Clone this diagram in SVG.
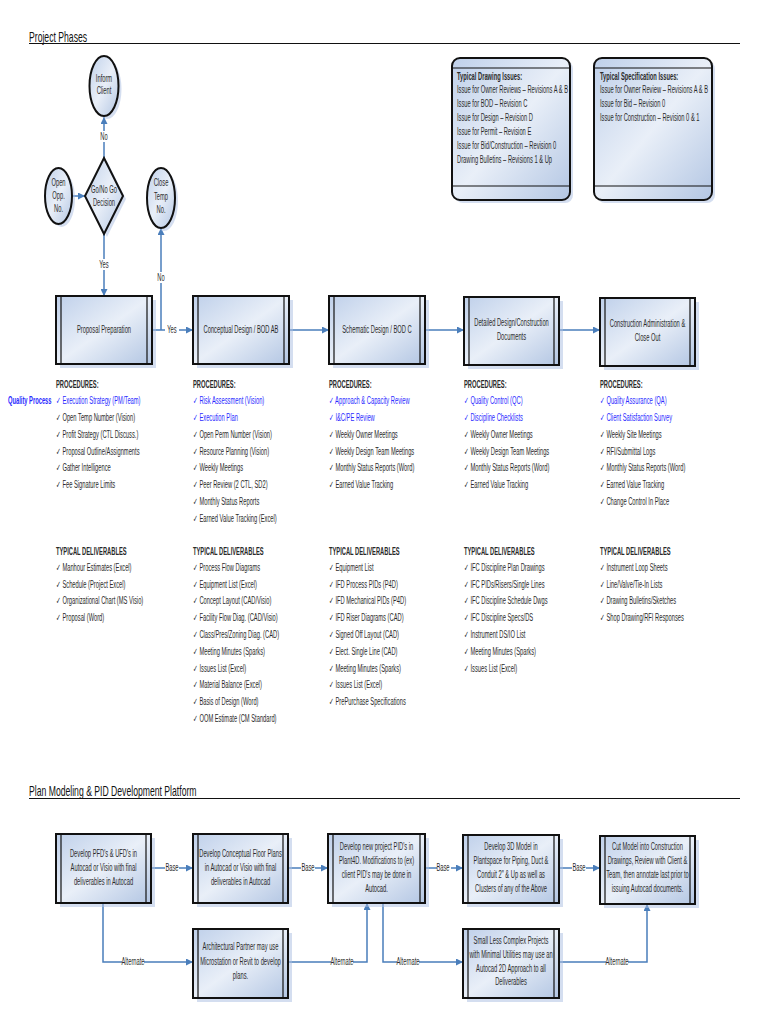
<svg xmlns="http://www.w3.org/2000/svg" width="768" height="1024" viewBox="0 0 768 1024">
<defs>
<linearGradient id="gf" x1="0" y1="0" x2="1" y2="1">
<stop offset="0" stop-color="#bfd0ea"/>
<stop offset="0.5" stop-color="#e9eff8"/>
<stop offset="1" stop-color="#b3c6e3"/>
</linearGradient>
<marker id="arr" viewBox="0 0 10 10" refX="10" refY="5" markerUnits="userSpaceOnUse" markerWidth="7" markerHeight="7" orient="auto">
<path d="M0,0 L10,5 L0,10 z" fill="#4a7ebb"/>
</marker>
</defs>
<style>
.t{font-family:"Liberation Sans",Arial,"DejaVu Sans",sans-serif;font-size:10px;fill:#2a2a2a}
.b{font-weight:bold}
.blue{fill:#2a2aff}
.ttl{font-family:"Liberation Sans",Arial,sans-serif;font-size:15px;fill:#111}
.box{fill:url(#gf);stroke:#111;stroke-width:2}
.sh{fill:#a9bde2;opacity:0.5}
.in{stroke:#111;stroke-width:1.2}
.c{fill:none;stroke:#4a7ebb;stroke-width:1.5}
.ca{fill:none;stroke:#4a7ebb;stroke-width:1.5;marker-end:url(#arr)}
.lb{fill:#fff}
.m{text-anchor:middle}
</style>
<rect width="768" height="1024" fill="#fff"/>

<!-- Section titles -->
<g id="title1">
<g transform="translate(29,0) scale(0.576,1)"><text class="ttl" x="0" y="42">Project Phases</text></g>
<line x1="29" y1="43.5" x2="740" y2="43.5" stroke="#111" stroke-width="1.2"/>
</g>
<g id="title2">
<g transform="translate(29,0) scale(0.576,1)"><text class="ttl" x="0" y="796">Plan Modeling &amp; PID Development Platform</text></g>
<line x1="29" y1="798.5" x2="740" y2="798.5" stroke="#111" stroke-width="1.2"/>
</g>

<!-- Connectors -->
<g id="connectors">
<line class="ca" x1="72" y1="196" x2="85" y2="196"/>
<line class="ca" x1="104" y1="158" x2="104" y2="117"/>
<line class="ca" x1="104" y1="234" x2="104" y2="296"/>
<line class="ca" x1="152" y1="330" x2="193" y2="330"/>
<line class="ca" x1="161" y1="330" x2="161" y2="228"/>
<line class="ca" x1="289" y1="330" x2="329" y2="330"/>
<line class="ca" x1="425" y1="330" x2="464" y2="330"/>
<line class="ca" x1="559" y1="330" x2="600" y2="330"/>

<line class="ca" x1="151" y1="868" x2="193" y2="868"/>
<line class="ca" x1="288" y1="868" x2="328" y2="868"/>
<line class="ca" x1="425" y1="868" x2="463" y2="868"/>
<line class="ca" x1="559" y1="868" x2="600" y2="868"/>
<polyline class="ca" points="103,903 103,962 193,962"/>
<polyline class="ca" points="288,962 367,962 367,903"/>
<polyline class="ca" points="383,903 383,962 463,962"/>
<polyline class="ca" points="559,962 647,962 647,904"/>

<!-- labels -->
<rect class="lb" x="97" y="131" width="14" height="11"/>
<g transform="translate(104,0) scale(0.576,1)"><text class="t m" x="0" y="140.5">No</text></g>
<rect class="lb" x="95" y="259" width="18" height="11"/>
<g transform="translate(104,0) scale(0.576,1)"><text class="t m" x="0" y="268.5">Yes</text></g>
<rect class="lb" x="154" y="272" width="14" height="11"/>
<g transform="translate(161,0) scale(0.576,1)"><text class="t m" x="0" y="281.5">No</text></g>
<rect class="lb" x="165" y="324" width="14" height="11"/>
<g transform="translate(172,0) scale(0.576,1)"><text class="t m" x="0" y="333.5">Yes</text></g>

<rect class="lb" x="165" y="862" width="14" height="11"/>
<g transform="translate(172,0) scale(0.576,1)"><text class="t m" x="0" y="871.5">Base</text></g>
<rect class="lb" x="301" y="862" width="14" height="11"/>
<g transform="translate(308,0) scale(0.576,1)"><text class="t m" x="0" y="871.5">Base</text></g>
<rect class="lb" x="437" y="862" width="14" height="11"/>
<g transform="translate(443,0) scale(0.576,1)"><text class="t m" x="0" y="871.5">Base</text></g>
<rect class="lb" x="572" y="862" width="14" height="11"/>
<g transform="translate(579,0) scale(0.576,1)"><text class="t m" x="0" y="871.5">Base</text></g>

<rect class="lb" x="122" y="956" width="22" height="11"/>
<g transform="translate(133,0) scale(0.576,1)"><text class="t m" x="0" y="965.5">Alternate</text></g>
<rect class="lb" x="331" y="956" width="22" height="11"/>
<g transform="translate(342,0) scale(0.576,1)"><text class="t m" x="0" y="965.5">Alternate</text></g>
<rect class="lb" x="397" y="956" width="22" height="11"/>
<g transform="translate(408,0) scale(0.576,1)"><text class="t m" x="0" y="965.5">Alternate</text></g>
<rect class="lb" x="606" y="956" width="22" height="11"/>
<g transform="translate(617,0) scale(0.576,1)"><text class="t m" x="0" y="965.5">Alternate</text></g>
</g>

<!-- Ellipses and decision -->
<g id="inform-client">
<ellipse class="sh" cx="107" cy="89" rx="14.5" ry="30"/>
<ellipse class="box" cx="104" cy="86" rx="14.5" ry="30"/>
<g transform="translate(104,0) scale(0.576,1)"><text class="t m" x="0" y="82">Inform</text><text class="t m" x="0" y="94.5">Client</text></g>
</g>
<g id="open-opp">
<ellipse class="sh" cx="61.5" cy="199" rx="13.5" ry="28"/>
<ellipse class="box" cx="58.5" cy="196" rx="13.5" ry="28"/>
<g transform="translate(58.5,0) scale(0.576,1)"><text class="t m" x="0" y="186.5">Open</text><text class="t m" x="0" y="199.5">Opp.</text><text class="t m" x="0" y="212.5">No.</text></g>
</g>
<g id="decision">
<polygon class="sh" points="107,161 126,199 107,237 88,199"/>
<polygon class="box" points="104,158 123,196 104,234 85,196"/>
<g transform="translate(104,0) scale(0.576,1)"><text class="t m" x="0" y="193.5">Go/No Go</text><text class="t m" x="0" y="206.5">Decision</text></g>
</g>
<g id="close-temp">
<ellipse class="sh" cx="164" cy="201" rx="14" ry="30"/>
<ellipse class="box" cx="161" cy="198" rx="14" ry="30"/>
<g transform="translate(161,0) scale(0.576,1)"><text class="t m" x="0" y="186.5">Close</text><text class="t m" x="0" y="200.5">Temp</text><text class="t m" x="0" y="213.5">No.</text></g>
</g>

<!-- Issue boxes -->
<g id="drawing-issues">
<rect class="sh" x="455" y="61" width="118" height="142" rx="8"/>
<rect class="box" x="452" y="58" width="118" height="142" rx="8"/>
<line class="in" x1="452" y1="68" x2="570" y2="68" stroke-width="2"/>
<line class="in" x1="452" y1="186" x2="570" y2="186" stroke-width="2"/>
<g transform="translate(457,0) scale(0.576,1)">
<text class="t b" x="0" y="80.5">Typical Drawing Issues:</text>
<text class="t" x="0" y="93">Issue for Owner Reviews – Revisions A &amp; B</text>
<text class="t" x="0" y="107">Issue for BOD – Revision C</text>
<text class="t" x="0" y="121">Issue for Design – Revision D</text>
<text class="t" x="0" y="135.5">Issue for Permit – Revision E</text>
<text class="t" x="0" y="149.5">Issue for Bid/Construction – Revision 0</text>
<text class="t" x="0" y="163.5">Drawing Bulletins – Revisions 1 &amp; Up</text>
</g>
</g>
<g id="spec-issues">
<rect class="sh" x="597" y="61" width="118" height="142" rx="8"/>
<rect class="box" x="594" y="58" width="118" height="142" rx="8"/>
<line class="in" x1="594" y1="68" x2="712" y2="68" stroke-width="2"/>
<line class="in" x1="594" y1="186" x2="712" y2="186" stroke-width="2"/>
<g transform="translate(600,0) scale(0.576,1)">
<text class="t b" x="0" y="80.5">Typical Specification Issues:</text>
<text class="t" x="0" y="93">Issue for Owner Review – Revisions A &amp; B</text>
<text class="t" x="0" y="107">Issue for Bid – Revision 0</text>
<text class="t" x="0" y="121">Issue for Construction – Revision 0 &amp; 1</text>
</g>
</g>

<!-- Phase boxes -->
<g id="proposal">
<rect class="sh" x="60" y="300" width="96" height="68"/>
<rect class="box" x="56" y="296" width="96" height="68"/>
<line class="in" x1="61" y1="296" x2="61" y2="364"/><line class="in" x1="147" y1="296" x2="147" y2="364"/>
<g transform="translate(104,0) scale(0.576,1)"><text class="t m" x="0" y="333.5">Proposal Preparation</text></g>
</g>
<g id="conceptual">
<rect class="sh" x="197" y="300" width="96" height="68"/>
<rect class="box" x="193" y="296" width="96" height="68"/>
<line class="in" x1="198" y1="296" x2="198" y2="364"/><line class="in" x1="284" y1="296" x2="284" y2="364"/>
<g transform="translate(241,0) scale(0.576,1)"><text class="t m" x="0" y="333.5">Conceptual Design / BOD AB</text></g>
</g>
<g id="schematic">
<rect class="sh" x="333" y="300" width="96" height="68"/>
<rect class="box" x="329" y="296" width="96" height="68"/>
<line class="in" x1="334" y1="296" x2="334" y2="364"/><line class="in" x1="420" y1="296" x2="420" y2="364"/>
<g transform="translate(377,0) scale(0.576,1)"><text class="t m" x="0" y="333.5">Schematic Design / BOD C</text></g>
</g>
<g id="detailed">
<rect class="sh" x="468" y="301" width="95" height="68"/>
<rect class="box" x="464" y="297" width="95" height="68"/>
<line class="in" x1="469" y1="297" x2="469" y2="365"/><line class="in" x1="554" y1="297" x2="554" y2="365"/>
<g transform="translate(511.5,0) scale(0.576,1)"><text class="t m" x="0" y="326.5">Detailed Design/Construction</text><text class="t m" x="0" y="340.5">Documents</text></g>
</g>
<g id="construction">
<rect class="sh" x="604" y="302" width="95" height="68"/>
<rect class="box" x="600" y="298" width="95" height="68"/>
<line class="in" x1="605" y1="298" x2="605" y2="366"/><line class="in" x1="690" y1="298" x2="690" y2="366"/>
<g transform="translate(647.5,0) scale(0.576,1)"><text class="t m" x="0" y="327.5">Construction Administration &amp;</text><text class="t m" x="0" y="341.5">Close Out</text></g>
</g>

<!-- Quality Process label -->
<g id="quality-process" transform="translate(8,0) scale(0.576,1)"><text class="t b blue" x="0" y="404">Quality Process</text></g>

<!-- Procedures -->
<g id="proc1" transform="translate(56,0) scale(0.576,1)">
<text class="t b" x="0" y="387.8">PROCEDURES:</text>
<text class="t blue" x="0" y="404.3">✓ Execution Strategy (PM/Team)</text>
<text class="t" x="0" y="421.1">✓ Open Temp Number (Vision)<tspan x="0" dy="16.8">✓ Profit Strategy (CTL Discuss.)</tspan><tspan x="0" dy="16.8">✓ Proposal Outline/Assignments</tspan><tspan x="0" dy="16.8">✓ Gather Intelligence</tspan><tspan x="0" dy="16.8">✓ Fee Signature Limits</tspan></text>
</g>
<g id="proc2" transform="translate(193,0) scale(0.576,1)">
<text class="t b" x="0" y="387.8">PROCEDURES:</text>
<text class="t blue" x="0" y="404.3">✓ Risk Assessment (Vision)<tspan x="0" dy="16.8">✓ Execution Plan</tspan></text>
<text class="t" x="0" y="437.9">✓ Open Perm Number (Vision)<tspan x="0" dy="16.8">✓ Resource Planning (Vision)</tspan><tspan x="0" dy="16.8">✓ Weekly Meetings</tspan><tspan x="0" dy="16.8">✓ Peer Review (2 CTL, SD2)</tspan><tspan x="0" dy="16.8">✓ Monthly Status Reports</tspan><tspan x="0" dy="16.8">✓ Earned Value Tracking (Excel)</tspan></text>
</g>
<g id="proc3" transform="translate(329,0) scale(0.576,1)">
<text class="t b" x="0" y="387.8">PROCEDURES:</text>
<text class="t blue" x="0" y="404.3">✓ Approach &amp; Capacity Review<tspan x="0" dy="16.8">✓ I&amp;C/PE Review</tspan></text>
<text class="t" x="0" y="437.9">✓ Weekly Owner Meetings<tspan x="0" dy="16.8">✓ Weekly Design Team Meetings</tspan><tspan x="0" dy="16.8">✓ Monthly Status Reports (Word)</tspan><tspan x="0" dy="16.8">✓ Earned Value Tracking</tspan></text>
</g>
<g id="proc4" transform="translate(464,0) scale(0.576,1)">
<text class="t b" x="0" y="387.8">PROCEDURES:</text>
<text class="t blue" x="0" y="404.3">✓ Quality Control (QC)<tspan x="0" dy="16.8">✓ Discipline Checklists</tspan></text>
<text class="t" x="0" y="437.9">✓ Weekly Owner Meetings<tspan x="0" dy="16.8">✓ Weekly Design Team Meetings</tspan><tspan x="0" dy="16.8">✓ Monthly Status Reports (Word)</tspan><tspan x="0" dy="16.8">✓ Earned Value Tracking</tspan></text>
</g>
<g id="proc5" transform="translate(600,0) scale(0.576,1)">
<text class="t b" x="0" y="387.8">PROCEDURES:</text>
<text class="t blue" x="0" y="404.3">✓ Quality Assurance (QA)<tspan x="0" dy="16.8">✓ Client Satisfaction Survey</tspan></text>
<text class="t" x="0" y="437.9">✓ Weekly Site Meetings<tspan x="0" dy="16.8">✓ RFI/Submittal Logs</tspan><tspan x="0" dy="16.8">✓ Monthly Status Reports (Word)</tspan><tspan x="0" dy="16.8">✓ Earned Value Tracking</tspan><tspan x="0" dy="16.8">✓ Change Control In Place</tspan></text>
</g>

<!-- Deliverables -->
<g id="deliv1" transform="translate(56,0) scale(0.576,1)">
<text class="t b" x="0" y="554.6">TYPICAL DELIVERABLES</text>
<text class="t" x="0" y="570.8">✓ Manhour Estimates (Excel)<tspan x="0" dy="16.8">✓ Schedule (Project Excel)</tspan><tspan x="0" dy="16.8">✓ Organizational Chart (MS Visio)</tspan><tspan x="0" dy="16.8">✓ Proposal (Word)</tspan></text>
</g>
<g id="deliv2" transform="translate(193,0) scale(0.576,1)">
<text class="t b" x="0" y="554.6">TYPICAL DELIVERABLES</text>
<text class="t" x="0" y="570.8">✓ Process Flow Diagrams<tspan x="0" dy="16.8">✓ Equipment List (Excel)</tspan><tspan x="0" dy="16.8">✓ Concept Layout (CAD/Visio)</tspan><tspan x="0" dy="16.8">✓ Facility Flow Diag. (CAD/Visio)</tspan><tspan x="0" dy="16.8">✓ Class/Pres/Zoning Diag. (CAD)</tspan><tspan x="0" dy="16.8">✓ Meeting Minutes (Sparks)</tspan><tspan x="0" dy="16.8">✓ Issues List (Excel)</tspan><tspan x="0" dy="16.8">✓ Material Balance (Excel)</tspan><tspan x="0" dy="16.8">✓ Basis of Design (Word)</tspan><tspan x="0" dy="16.8">✓ OOM Estimate (CM Standard)</tspan></text>
</g>
<g id="deliv3" transform="translate(329,0) scale(0.576,1)">
<text class="t b" x="0" y="554.6">TYPICAL DELIVERABLES</text>
<text class="t" x="0" y="570.8">✓ Equipment List<tspan x="0" dy="16.8">✓ IFD Process PIDs (P4D)</tspan><tspan x="0" dy="16.8">✓ IFD Mechanical PIDs (P4D)</tspan><tspan x="0" dy="16.8">✓ IFD Riser Diagrams (CAD)</tspan><tspan x="0" dy="16.8">✓ Signed Off Layout (CAD)</tspan><tspan x="0" dy="16.8">✓ Elect. Single Line (CAD)</tspan><tspan x="0" dy="16.8">✓ Meeting Minutes (Sparks)</tspan><tspan x="0" dy="16.8">✓ Issues List (Excel)</tspan><tspan x="0" dy="16.8">✓ PrePurchase Specifications</tspan></text>
</g>
<g id="deliv4" transform="translate(464,0) scale(0.576,1)">
<text class="t b" x="0" y="554.6">TYPICAL DELIVERABLES</text>
<text class="t" x="0" y="570.8">✓ IFC Discipline Plan Drawings<tspan x="0" dy="16.8">✓ IFC PIDs/Risers/Single Lines</tspan><tspan x="0" dy="16.8">✓ IFC Discipline Schedule Dwgs</tspan><tspan x="0" dy="16.8">✓ IFC Discipline Specs/DS</tspan><tspan x="0" dy="16.8">✓ Instrument DS/IO List</tspan><tspan x="0" dy="16.8">✓ Meeting Minutes (Sparks)</tspan><tspan x="0" dy="16.8">✓ Issues List (Excel)</tspan></text>
</g>
<g id="deliv5" transform="translate(600,0) scale(0.576,1)">
<text class="t b" x="0" y="554.6">TYPICAL DELIVERABLES</text>
<text class="t" x="0" y="570.8">✓ Instrument Loop Sheets<tspan x="0" dy="16.8">✓ Line/Valve/Tie-In Lists</tspan><tspan x="0" dy="16.8">✓ Drawing Bulletins/Sketches</tspan><tspan x="0" dy="16.8">✓ Shop Drawing/RFI Responses</tspan></text>
</g>

<!-- Bottom section boxes -->
<g id="pfd">
<rect class="sh" x="60" y="838" width="95" height="69"/>
<rect class="box" x="56" y="834" width="95" height="69"/>
<line class="in" x1="61" y1="834" x2="61" y2="903"/><line class="in" x1="146" y1="834" x2="146" y2="903"/>
<g transform="translate(103.5,0) scale(0.576,1)"><text class="t m" x="0" y="857.5">Develop PFD's &amp; UFD's in</text><text class="t m" x="0" y="871.5">Autocad or Visio with final</text><text class="t m" x="0" y="885.5">deliverables in Autocad</text></g>
</g>
<g id="floor-plans">
<rect class="sh" x="197" y="838" width="95" height="69"/>
<rect class="box" x="193" y="834" width="95" height="69"/>
<line class="in" x1="198" y1="834" x2="198" y2="903"/><line class="in" x1="283" y1="834" x2="283" y2="903"/>
<g transform="translate(240.5,0) scale(0.576,1)"><text class="t m" x="0" y="857.5">Develop Conceptual Floor Plans</text><text class="t m" x="0" y="871.5">in Autocad or Visio with final</text><text class="t m" x="0" y="885.5">deliverables in Autocad</text></g>
</g>
<g id="pids">
<rect class="sh" x="332" y="838" width="97" height="69"/>
<rect class="box" x="328" y="834" width="97" height="69"/>
<line class="in" x1="333" y1="834" x2="333" y2="903"/><line class="in" x1="420" y1="834" x2="420" y2="903"/>
<g transform="translate(376.5,0) scale(0.576,1)"><text class="t m" x="0" y="850.5">Develop new project PID's in</text><text class="t m" x="0" y="864.5">Plant4D. Modifications to (ex)</text><text class="t m" x="0" y="878.5">client PID's may be done in</text><text class="t m" x="0" y="892.5">Autocad.</text></g>
</g>
<g id="model3d">
<rect class="sh" x="467" y="839" width="96" height="68"/>
<rect class="box" x="463" y="835" width="96" height="68"/>
<line class="in" x1="468" y1="835" x2="468" y2="903"/><line class="in" x1="554" y1="835" x2="554" y2="903"/>
<g transform="translate(511,0) scale(0.576,1)"><text class="t m" x="0" y="850.5">Develop 3D Model in</text><text class="t m" x="0" y="864.5">Plantspace for Piping, Duct &amp;</text><text class="t m" x="0" y="878.5">Conduit 2" &amp; Up as well as</text><text class="t m" x="0" y="892.5">Clusters of any of the Above</text></g>
</g>
<g id="cut-model">
<rect class="sh" x="604" y="840" width="95" height="68"/>
<rect class="box" x="600" y="836" width="95" height="68"/>
<line class="in" x1="605" y1="836" x2="605" y2="904"/><line class="in" x1="690" y1="836" x2="690" y2="904"/>
<g transform="translate(647.5,0) scale(0.576,1)"><text class="t m" x="0" y="850.5">Cut Model into Construction</text><text class="t m" x="0" y="864.5">Drawings, Review with Client &amp;</text><text class="t m" x="0" y="878.5">Team, then annotate last prior to</text><text class="t m" x="0" y="892.5">issuing Autocad documents.</text></g>
</g>
<g id="arch-partner">
<rect class="sh" x="197" y="933" width="95" height="69"/>
<rect class="box" x="193" y="929" width="95" height="69"/>
<line class="in" x1="198" y1="929" x2="198" y2="998"/><line class="in" x1="283" y1="929" x2="283" y2="998"/>
<g transform="translate(240.5,0) scale(0.576,1)"><text class="t m" x="0" y="950.5">Architectural Partner may use</text><text class="t m" x="0" y="965.5">Microstation or Revit to develop</text><text class="t m" x="0" y="979.5">plans.</text></g>
</g>
<g id="small-projects">
<rect class="sh" x="467" y="933" width="96" height="69"/>
<rect class="box" x="463" y="929" width="96" height="69"/>
<line class="in" x1="468" y1="929" x2="468" y2="998"/><line class="in" x1="554" y1="929" x2="554" y2="998"/>
<g transform="translate(511,0) scale(0.576,1)"><text class="t m" x="0" y="944.5">Small Less Complex Projects</text><text class="t m" x="0" y="958.5">with Minimal Utilities may use an</text><text class="t m" x="0" y="972">Autocad 2D Approach to all</text><text class="t m" x="0" y="985.5">Deliverables</text></g>
</g>
</svg>
